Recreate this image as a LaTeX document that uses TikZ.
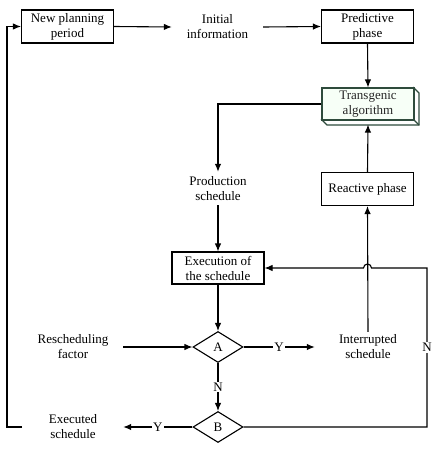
\documentclass[tikz,border=0pt]{standalone}
\usepackage{fontspec}
\setmainfont{Liberation Serif}
\usetikzlibrary{arrows.meta,shapes.geometric}
\definecolor{tgline}{HTML}{2E4B3C}
\begin{document}
\begin{tikzpicture}[x=1pt,y=-1pt,
  every node/.style={font=\fontsize{13}{15}\selectfont, align=center, inner sep=1pt},
  box/.style={draw, line width=1.1pt, minimum width=92pt, minimum height=33pt},
  txt/.style={minimum width=100pt, minimum height=32pt},
  dia/.style={draw, diamond, line width=1.1pt, minimum width=50pt, minimum height=31pt, inner sep=0pt, aspect=1.6},
  con/.style={line width=1.1pt},
  arr/.style={con, -{Latex[length=8pt,width=6.5pt]}},
  lbl/.style={fill=white, inner sep=1pt}]
\useasboundingbox (0,0) rectangle (435,450);
\node[box] (npp) at (67.5,26.5) {New planning\\period};
\node[txt, minimum width=91pt] (ini) at (217.5,27) {Initial\\information};
\node[box] (pred) at (367.5,26.5) {Predictive\\phase};
% transgenic algorithm 3D box
\draw[tgline, line width=1.1pt, fill=white] (414,88) -- (419,93) -- (419,125) -- (327,125) -- (322,120) -- (414,120) -- cycle;
\draw[tgline, line width=1.1pt] (414,120) -- (419,125);
\node[draw=tgline, fill=green!3, line width=1.1pt, minimum width=92pt, minimum height=32pt, text=black!85] (tga) at (368,104) {Transgenic\\algorithm};
\node[txt, minimum height=33pt] (prod) at (218,188.5) {Production\\schedule};
\node[box] (react) at (367.5,189) {Reactive phase};
\node[box, minimum height=32pt] (exec) at (218,268) {Execution of\\the schedule};
\node[dia] (A) at (218,347) {A};
\node[dia] (B) at (218,427) {B};
\node[txt] (resc) at (73,347) {Rescheduling\\factor};
\node[txt, minimum width=106pt, minimum height=30pt] (intr) at (368,347) {Interrupted\\schedule};
\node[txt] (exed) at (73,427) {Executed\\schedule};
\coordinate (lp) at (22,427);
\coordinate (rc) at (427,427);
% connectors
\draw[arr] (npp.east) -- (ini.west);
\draw[arr] (ini.east) -- (pred.west);
\draw[arr] (pred.south) -- (tga.north);
\draw[arr] (tga.west) -| (prod.north);
\draw[arr] (prod.south) -- (exec.north);
\draw[arr] (exec.south) -- (A.north);
\draw[arr] (resc.east) -- (A.west);
\draw[arr] (A.east) -- node[lbl]{Y} (intr.west);
\draw[arr] (A.south) -- node[lbl]{N} (B.north);
\draw[arr] (B.west) -- node[lbl]{Y} (exed.east);
\draw[arr] (intr.north) -- (react.south);
\draw[arr] (react.north) -- ([yshift=-4pt]tga.south);
\draw[arr] (B.east) -- (rc) -- node[lbl]{N} (427,268) -- (371.5,268) arc[start angle=0, end angle=180, radius=4pt] -- (exec.east);
\draw[arr] (lp) -- (7,427) |- (npp.west);
\end{tikzpicture}
\end{document}
